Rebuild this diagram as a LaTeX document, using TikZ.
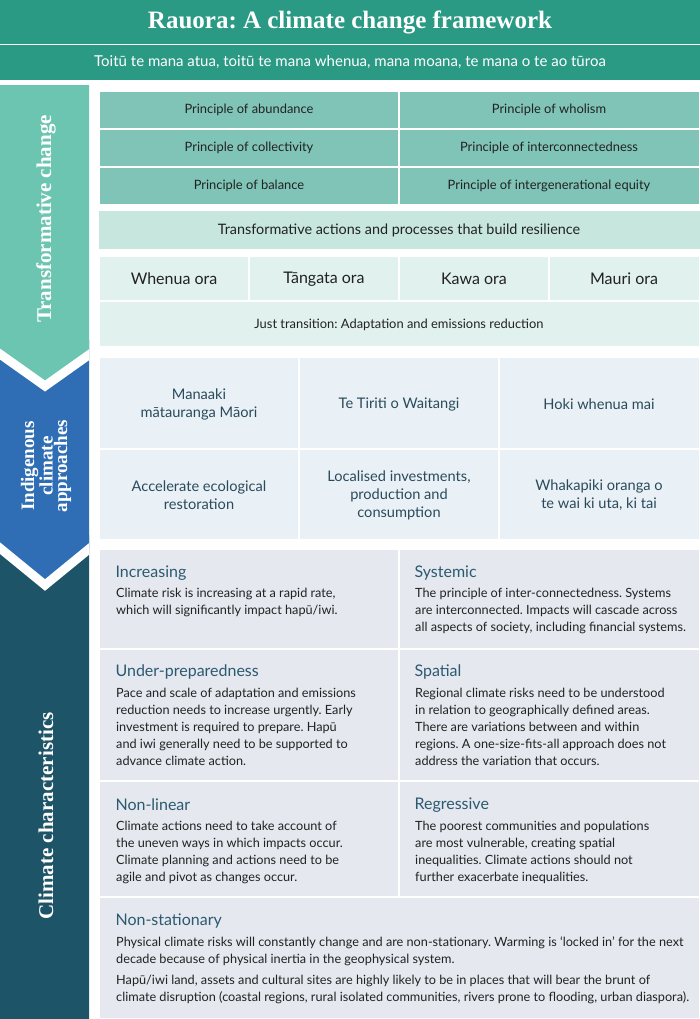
\documentclass[tikz,border=0pt]{standalone}
\usepackage{fontspec}
\setmainfont{Lato}
\newfontfamily\headserif{Liberation Serif}
\definecolor{titlebg}{HTML}{2B9A84}
\definecolor{princ}{HTML}{80C4B7}
\definecolor{transrow}{HTML}{C6E6DE}
\definecolor{oracell}{HTML}{E1F1ED}
\definecolor{indcell}{HTML}{EAF1F6}
\definecolor{climcell}{HTML}{E5E8EE}
\definecolor{bandgreen}{HTML}{6CC5B1}
\definecolor{bandblue}{HTML}{2F6EB5}
\definecolor{banddark}{HTML}{1D5468}
\definecolor{headcol}{HTML}{2B5A70}
\definecolor{indtext}{HTML}{2A4A5C}
\definecolor{bodytext}{HTML}{222222}
\frenchspacing
\begin{document}
\begin{tikzpicture}[x=1pt,y=-1pt,
  cell/.style={draw=white,line width=1.2pt},
  ptext/.style={font=\fontsize{12.9}{14}\selectfont,text=bodytext},
  itext/.style={font=\fontsize{14.6}{18}\selectfont,text=indtext,align=center},
  chead/.style={font=\fontsize{16}{18}\selectfont,text=headcol,anchor=west},
  cbody/.style={font=\fontsize{12.7}{17}\selectfont,text=bodytext,anchor=north west,align=left,inner sep=0pt},
  bandtext/.style={font=\headserif\bfseries\fontsize{21}{16.5}\selectfont,text=white,rotate=90,align=center}]
\useasboundingbox (0,0) rectangle (700,1019);
\fill[white] (0,0) rectangle (700,1019);
% title
\fill[titlebg] (0,0) rectangle (700,80);
\draw[white,line width=1pt] (0,44.5) -- (700,44.5);
\node[font=\headserif\bfseries\fontsize{25}{27}\selectfont,text=white] (title) at (350,22) {Rauora: A climate change framework};
\node[font=\fontsize{15}{17}\selectfont,text=white] (sub) at (350,62) {Toitū te mana atua, toitū te mana whenua, mana moana, te mana o te ao tūroa};
% left band
\begin{scope}
\clip (0,86) rectangle (89,1019);
\fill[banddark] (0,535) rectangle (95,1025);
\filldraw[fill=bandblue,draw=white,line width=9pt,line join=miter] (-10,340) -- (100,340) -- (100,540) -- (45,585) -- (-10,540) -- cycle;
\filldraw[fill=bandgreen,draw=white,line width=9pt,line join=miter] (-10,80) -- (100,80) -- (100,347) -- (45,386) -- (-10,347) -- cycle;
\end{scope}
\node[bandtext] (bt1) at (46,219) {Transformative change};
\node[bandtext,font=\headserif\bfseries\fontsize{19}{14.5}\selectfont] (bt2) at (46,466) {Indigenous\\climate\\approaches};
\node[bandtext] (bt3) at (46,816) {Climate characteristics};
% principles
\filldraw[fill=princ,cell] (99,91) rectangle (399,129);
\filldraw[fill=princ,cell] (399,91) rectangle (700,129);
\filldraw[fill=princ,cell] (99,129) rectangle (399,167);
\filldraw[fill=princ,cell] (399,129) rectangle (700,167);
\filldraw[fill=princ,cell] (99,167) rectangle (399,205);
\filldraw[fill=princ,cell] (399,167) rectangle (700,205);
\node[ptext] (p1) at (249,110) {Principle of abundance};
\node[ptext] (p2) at (549,110) {Principle of wholism};
\node[ptext] (p3) at (249,148) {Principle of collectivity};
\node[ptext] (p4) at (549,148) {Principle of interconnectedness};
\node[ptext] (p5) at (249,186) {Principle of balance};
\node[ptext] (p6) at (549,186) {Principle of intergenerational equity};
\fill[transrow] (99,211) rectangle (700,249);
\node[font=\fontsize{14.4}{16}\selectfont,text=bodytext] (ta) at (399,230) {Transformative actions and processes that build resilience};
% ora
\foreach \a/\b in {99/249,249/399,399/549,549/700}{\filldraw[fill=oracell,cell] (\a,256) rectangle (\b,301);}
\filldraw[fill=oracell,cell] (99,301) rectangle (700,347);
\node[font=\fontsize{16}{18}\selectfont,text=bodytext] (o1) at (174,279) {Whenua ora};
\node[font=\fontsize{16}{18}\selectfont,text=bodytext] (o2) at (324,279) {Tāngata ora};
\node[font=\fontsize{16}{18}\selectfont,text=bodytext] (o3) at (474,279) {Kawa ora};
\node[font=\fontsize{16}{18}\selectfont,text=bodytext] (o4) at (624,279) {Mauri ora};
\node[ptext] (jt) at (399,325) {Just transition: Adaptation and emissions reduction};
% indigenous
\foreach \a/\b in {99/299,299/499,499/700}{
  \filldraw[fill=indcell,cell] (\a,357) rectangle (\b,449);
  \filldraw[fill=indcell,cell] (\a,449) rectangle (\b,540);}
\node[itext] (i1) at (199,404) {Manaaki\\mātauranga Māori};
\node[itext] (i2) at (399,404) {Te Tiriti o Waitangi};
\node[itext] (i3) at (599,404) {Hoki whenua mai};
\node[itext] (i4) at (199,495) {Accelerate ecological\\restoration};
\node[itext] (i5) at (399,495) {Localised investments,\\production and\\consumption};
\node[itext] (i6) at (599,495) {Whakapiki oranga o\\te wai ki uta, ki tai};
% climate
\filldraw[fill=climcell,cell] (99,549) rectangle (399,649);
\filldraw[fill=climcell,cell] (399,549) rectangle (700,649);
\filldraw[fill=climcell,cell] (99,649) rectangle (399,781);
\filldraw[fill=climcell,cell] (399,649) rectangle (700,781);
\filldraw[fill=climcell,cell] (99,781) rectangle (399,897);
\filldraw[fill=climcell,cell] (399,781) rectangle (700,897);
\filldraw[fill=climcell,cell] (99,897) rectangle (700,1019);
\node[chead] (h1) at (112,573) {Increasing};
\node[cbody] (b1) at (116,588) {Climate risk is increasing at a rapid rate,\\which will significantly impact hapū/iwi.};
\node[chead] (h2) at (411,573) {Systemic};
\node[cbody] (b2) at (415,588) {The principle of inter-connectedness. Systems\\are interconnected. Impacts will cascade across\\all aspects of society, including financial systems.};
\node[chead] (h3) at (112,672) {Under-preparedness};
\node[cbody] (b3) at (116,688) {Pace and scale of adaptation and emissions\\reduction needs to increase urgently. Early\\investment is required to prepare. Hapū\\and iwi generally need to be supported to\\advance climate action.};
\node[chead] (h4) at (411,672) {Spatial};
\node[cbody] (b4) at (415,688) {Regional climate risks need to be understood\\in relation to geographically defined areas.\\There are variations between and within\\regions. A one-size-fits-all approach does not\\address the variation that occurs.};
\node[chead] (h5) at (112,805) {Non-linear};
\node[cbody] (b5) at (116,821) {Climate actions need to take account of\\the uneven ways in which impacts occur.\\Climate planning and actions need to be\\agile and pivot as changes occur.};
\node[chead] (h6) at (411,805) {Regressive};
\node[cbody] (b6) at (415,821) {The poorest communities and populations\\are most vulnerable, creating spatial\\inequalities. Climate actions should not\\further exacerbate inequalities.};
\node[chead] (h7) at (112,921) {Non-stationary};
\node[cbody] (b7) at (116,937) {Physical climate risks will constantly change and are non-stationary. Warming is ‘locked in’ for the next\\decade because of physical inertia in the geophysical system.};
\node[cbody] (b8) at (116,975) {Hapū/iwi land, assets and cultural sites are highly likely to be in places that will bear the brunt of\\climate disruption (coastal regions, rural isolated communities, rivers prone to flooding, urban diaspora).};
\end{tikzpicture}
\end{document}
